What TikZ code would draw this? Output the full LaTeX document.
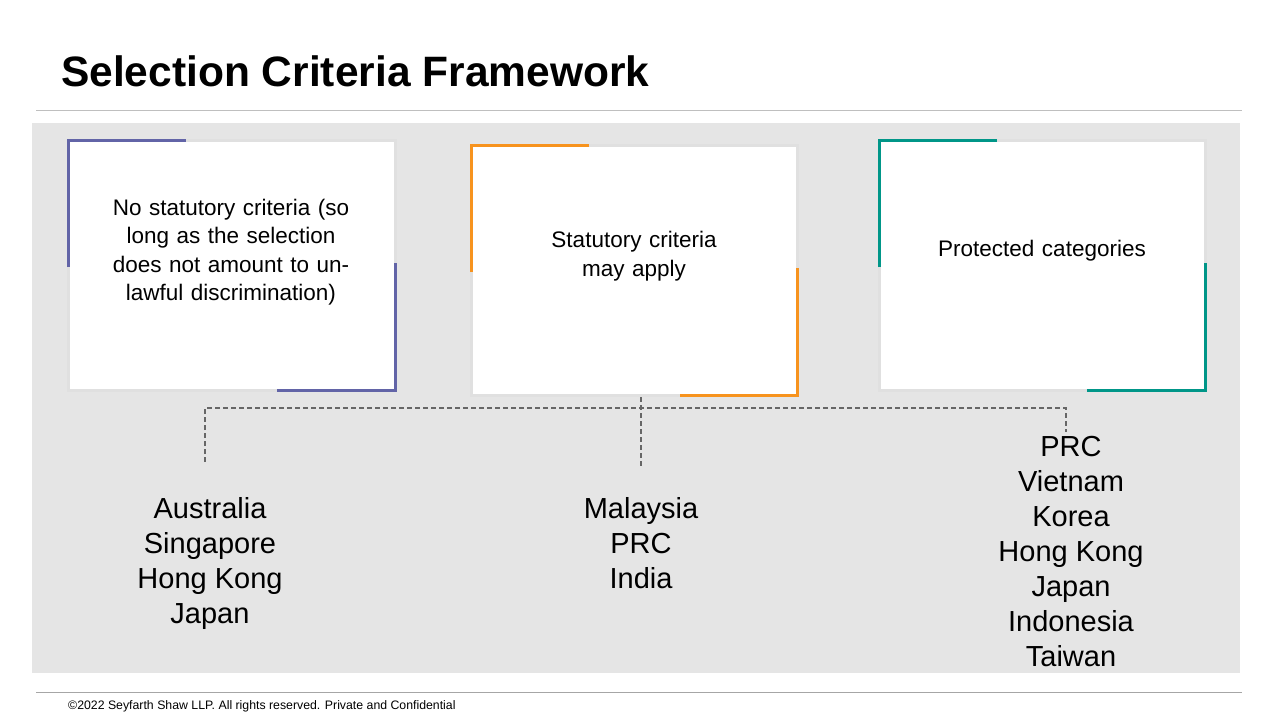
\documentclass[tikz,border=0pt]{standalone}
\usepackage{fontspec}
\setmainfont{Liberation Sans}
\definecolor{cpurple}{HTML}{6264A7}
\definecolor{corange}{HTML}{F7931E}
\definecolor{cteal}{HTML}{009688}
\begin{document}
\begin{tikzpicture}[x=1pt,y=-1pt,
  card/.style={fill=white,draw=black!12,line width=3pt},
  accent/.style={line width=3pt},
  dashline/.style={draw=black!60,dash pattern=on 5pt off 3pt,line width=1.5pt},
  boxtxt/.style={font=\fontsize{22.5}{28.5}\selectfont,align=center,text width=305pt},
  list/.style={font=\fontsize{29}{35}\selectfont,align=center,anchor=north}]
\useasboundingbox (0,0) rectangle (1271,713);
\node[anchor=base west,inner sep=0,font=\fontsize{42.5}{48}\selectfont\bfseries] (title) at (61,86) {Selection Criteria Framework};
\draw[black!25,line width=1pt] (36,110) -- (1242,110);
\fill[black!10] (32,123) rectangle (1240,673);
% boxes
\draw[card] (68,140) rectangle (395,390);
\draw[card] (471,145) rectangle (797,395);
\draw[card] (879,140) rectangle (1205,390);
\draw[accent,cpurple] (68,267) -- (68,140) -- (186,140);
\draw[accent,cpurple] (277,390) -- (395,390) -- (395,263);
\draw[accent,corange] (471,272) -- (471,145) -- (589,145);
\draw[accent,corange] (680,395) -- (797,395) -- (797,268);
\draw[accent,cteal] (879,267) -- (879,140) -- (997,140);
\draw[accent,cteal] (1087,390) -- (1205,390) -- (1205,263);
\node[boxtxt] (b1) at (231,252) {No statutory criteria (so long as the selection does not amount to unlawful discrimination)};
\node[boxtxt] (b2) at (634,256) {Statutory criteria\\may apply};
\node[boxtxt] (b3) at (1042,251) {Protected categories};
% connectors
\coordinate (h1) at (205,408);
\coordinate (h2) at (1066,408);
\coordinate (e1) at (205,462);
\coordinate (e2) at (641,468);
\coordinate (e3) at (1066,432);
\coordinate (top2) at (641,397);
\draw[dashline] (e1) -- (h1) -- (h2) -- (e3);
\draw[dashline] (top2) -- (e2);
\node[list] (l1) at (210,494) {Australia\\Singapore\\Hong Kong\\Japan};
\node[list] (l2) at (641,494) {Malaysia\\PRC\\India};
\node[list] (l3) at (1071,433) {PRC\\Vietnam\\Korea\\Hong Kong\\Japan\\Indonesia\\Taiwan};
\draw[black!35,line width=0.8pt] (36,692) -- (1242,692);
\node[anchor=base west,inner sep=0,font=\fontsize{12.3}{14}\selectfont] (foot) at (68,709) {©2022 Seyfarth Shaw LLP. All rights reserved. Private and Confidential};
\end{tikzpicture}
\end{document}
